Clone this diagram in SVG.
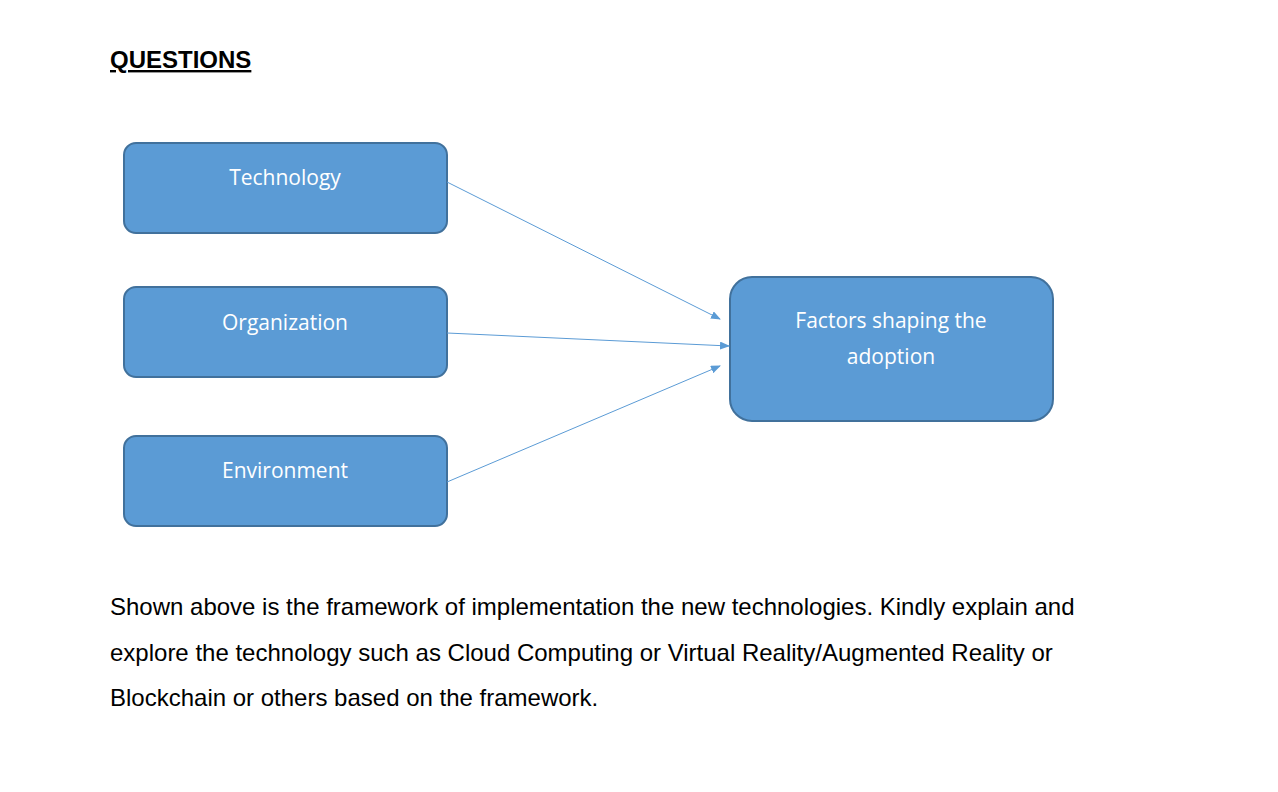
<svg xmlns="http://www.w3.org/2000/svg" width="1278" height="792" viewBox="0 0 1278 792">
<style>
.box{fill:#5b9bd5;stroke:#41719c;stroke-width:2}
.lbl{font-family:"Open Sans","Noto Sans",sans-serif;font-size:21px;fill:#fff;text-anchor:middle}
.body{font-family:"Liberation Sans",Arial,sans-serif;font-size:24px;fill:#000}
.conn{stroke:#5b9bd5;stroke-width:1;fill:none}
</style>
<defs><marker id="ah" markerWidth="10" markerHeight="8" refX="9" refY="4" orient="auto" markerUnits="userSpaceOnUse" viewBox="0 0 10 8"><path d="M0,0 L10,4 L0,8z" fill="#5b9bd5"/></marker></defs>
<rect width="1278" height="792" fill="#fff"/>
<text x="110" y="68" font-family="Liberation Sans,Arial,sans-serif" font-size="24" font-weight="bold" text-decoration="underline">QUESTIONS</text>
<g id="tech"><rect class="box" x="124" y="143" width="323" height="90" rx="12"/><text class="lbl" x="285" y="185">Technology</text></g>
<g id="org"><rect class="box" x="124" y="287" width="323" height="90" rx="12"/><text class="lbl" x="285" y="330">Organization</text></g>
<g id="env"><rect class="box" x="124" y="436" width="323" height="90" rx="12"/><text class="lbl" x="285" y="478">Environment</text></g>
<g id="factors"><rect class="box" x="730" y="277" width="323" height="144" rx="22"/><text class="lbl" x="891" y="328">Factors shaping the</text><text class="lbl" x="891" y="364">adoption</text></g>
<g id="connectors">
<line class="conn" x1="447" y1="182" x2="720" y2="319" marker-end="url(#ah)"/>
<line class="conn" x1="447" y1="333" x2="729" y2="346" marker-end="url(#ah)"/>
<line class="conn" x1="447" y1="482" x2="720" y2="366" marker-end="url(#ah)"/>
</g>
<text class="body" x="110" y="615">Shown above is the framework of implementation the new technologies. Kindly explain and</text>
<text class="body" x="110" y="661">explore the technology such as Cloud Computing or Virtual Reality/Augmented Reality or</text>
<text class="body" x="110" y="706">Blockchain or others based on the framework.</text>
</svg>
